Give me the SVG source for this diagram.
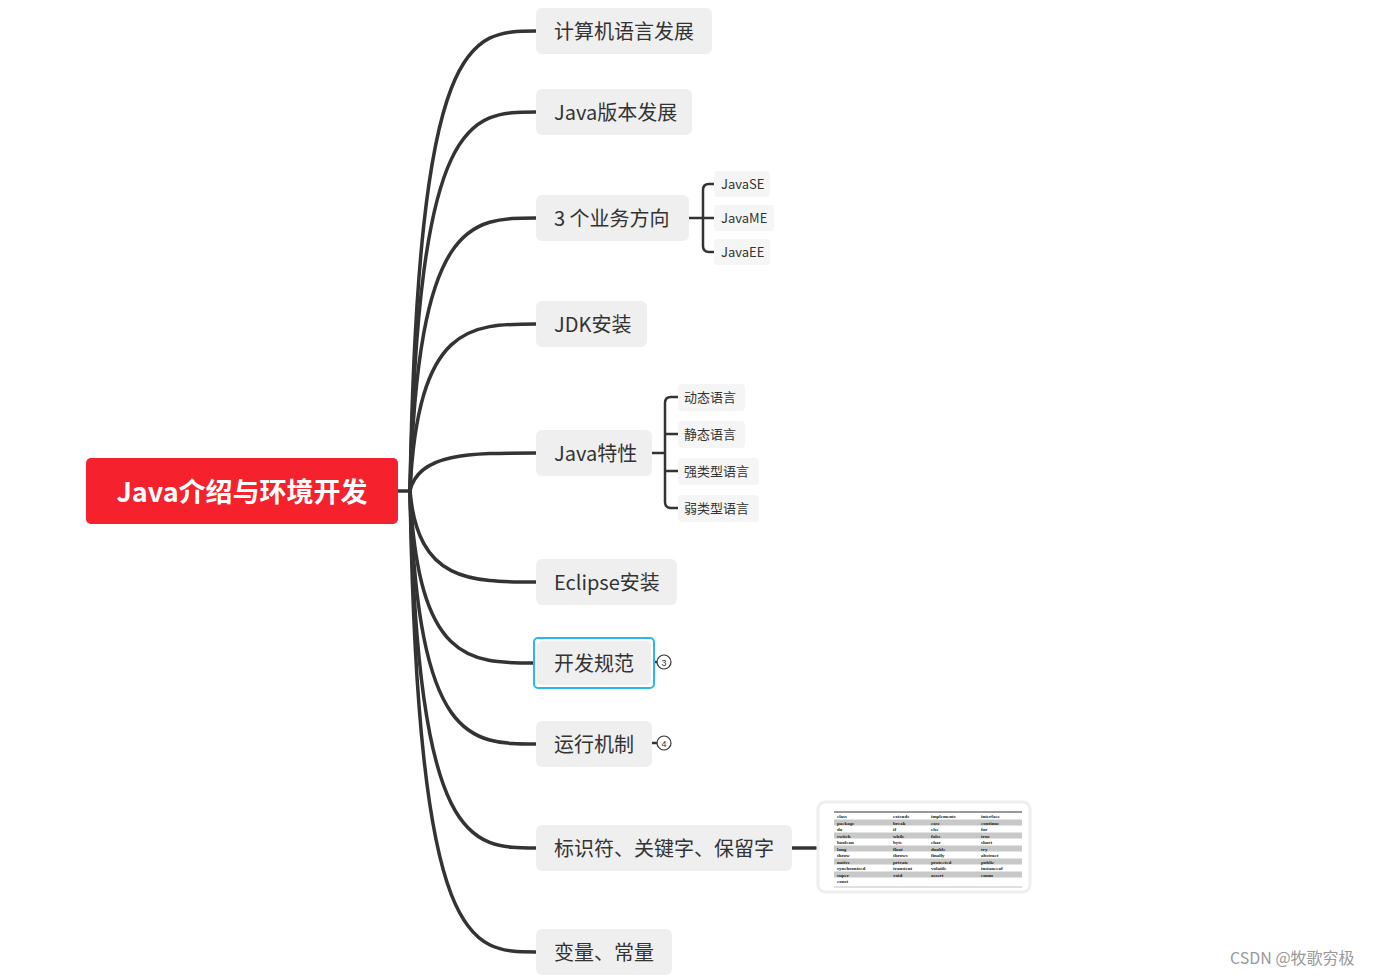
<svg xmlns="http://www.w3.org/2000/svg" width="1382" height="976" viewBox="0 0 1382 976">
<style>
.n{fill:#efefef}
.t{font-family:"Noto Sans CJK SC","Noto Sans",sans-serif;font-size:20px;fill:#333}
.s{fill:#f5f5f5}
.st{font-family:"Noto Sans CJK SC","Noto Sans",sans-serif;font-size:13px;fill:#333}
.c path,.c line{fill:none;stroke:#333;stroke-width:3.5;stroke-linecap:round}
.c .thin{stroke-width:2.5}
.tb{font-family:"Liberation Serif",serif;font-size:5px;fill:#222;font-weight:bold}
</style>
<rect width="1382" height="976" fill="#fff"/>
<g class="c" id="connectors">
<line x1="398" y1="491" x2="410" y2="491"/>
<path d="M410,491 C418,31 470,31 536,31"/>
<path d="M410,491 C418,112 470,112 536,112"/>
<path d="M410,491 C418,218 470,218 536,218"/>
<path d="M410,491 C418,324 470,324 536,324"/>
<path d="M410,491 C418,453 470,453 536,453"/>
<path d="M410,491 C418,582 470,582 536,582"/>
<path d="M410,491 C418,663 470,663 534,663"/>
<path d="M410,491 C418,744 470,744 536,744"/>
<path d="M410,491 C418,848 470,848 536,848"/>
<path d="M410,491 C418,952 470,952 536,952"/>
<path class="thin" d="M689,218 H703 M714,184 H709 Q703,184 703,190 V246 Q703,252 709,252 H714 M703,218 H714"/>
<path class="thin" d="M652,453 H665 M678,397 H671 Q665,397 665,403 V502 Q665,508 671,508 H678 M665,434 H678 M665,471 H678"/>
<line class="thin" x1="654" y1="662" x2="657" y2="662"/>
<line class="thin" x1="652" y1="743" x2="657" y2="743"/>
<line x1="792" y1="848" x2="816" y2="848"/>
</g>
<g id="root"><rect x="86" y="458" width="312" height="66" rx="5" fill="#f5222d"/><text x="242" y="502" text-anchor="middle" font-family="Noto Sans CJK SC,sans-serif" font-size="27" font-weight="bold" fill="#fff">Java介绍与环境开发</text></g>
<g id="n1"><rect class="n" x="536" y="8" width="176" height="46" rx="6"/><text class="t" x="554" y="39">计算机语言发展</text></g>
<g id="n2"><rect class="n" x="536" y="89" width="156" height="46" rx="6"/><text class="t" x="554" y="120">Java版本发展</text></g>
<g id="n3"><rect class="n" x="536" y="195" width="153" height="46" rx="6"/><text class="t" x="554" y="226">3 个业务方向</text></g>
<g id="n3a"><rect class="s" x="714" y="171" width="56" height="26" rx="4"/><text class="st" x="721" y="189">JavaSE</text></g>
<g id="n3b"><rect class="s" x="714" y="205" width="60" height="26" rx="4"/><text class="st" x="721" y="223">JavaME</text></g>
<g id="n3c"><rect class="s" x="714" y="239" width="56" height="26" rx="4"/><text class="st" x="721" y="257">JavaEE</text></g>
<g id="n4"><rect class="n" x="536" y="301" width="111" height="46" rx="6"/><text class="t" x="554" y="332">JDK安装</text></g>
<g id="n5"><rect class="n" x="536" y="430" width="116" height="46" rx="6"/><text class="t" x="554" y="461">Java特性</text></g>
<g id="n5a"><rect class="s" x="678" y="384" width="67" height="27" rx="4"/><text class="st" x="684" y="402">动态语言</text></g>
<g id="n5b"><rect class="s" x="678" y="421" width="67" height="27" rx="4"/><text class="st" x="684" y="439">静态语言</text></g>
<g id="n5c"><rect class="s" x="678" y="458" width="81" height="27" rx="4"/><text class="st" x="684" y="476">强类型语言</text></g>
<g id="n5d"><rect class="s" x="678" y="495" width="81" height="27" rx="4"/><text class="st" x="684" y="513">弱类型语言</text></g>
<g id="n6"><rect class="n" x="536" y="559" width="141" height="46" rx="6"/><text class="t" x="554" y="590">Eclipse安装</text></g>
<g id="n7"><rect x="534" y="638" width="120" height="50" rx="4" fill="#fff" stroke="#2ab7f0" stroke-width="2"/><rect class="n" x="537" y="641" width="114" height="44" rx="5"/><text class="t" x="554" y="671">开发规范</text>
<circle cx="664" cy="662" r="7" fill="#fff" stroke="#333" stroke-width="1.2"/><text x="664" y="665.5" text-anchor="middle" font-family="Liberation Sans,sans-serif" font-size="9" fill="#333">3</text></g>
<g id="n8"><rect class="n" x="536" y="721" width="116" height="46" rx="6"/><text class="t" x="554" y="752">运行机制</text>
<circle cx="664" cy="743" r="7" fill="#fff" stroke="#333" stroke-width="1.2"/><text x="664" y="746.5" text-anchor="middle" font-family="Liberation Sans,sans-serif" font-size="9" fill="#333">4</text></g>
<g id="n9"><rect class="n" x="536" y="825" width="256" height="46" rx="6"/><text class="t" x="554" y="856">标识符、关键字、保留字</text></g>
<g id="n9img">
<rect x="818" y="802" width="212" height="90" rx="7" fill="#fff" stroke="#eee" stroke-width="3"/>
<line x1="834" y1="812" x2="1022" y2="812" stroke="#333" stroke-width="1"/>
<g fill="#c8c8c8">
<rect x="834" y="819.5" width="188" height="6"/><rect x="834" y="832.5" width="188" height="6"/><rect x="834" y="845.5" width="188" height="6"/><rect x="834" y="858.5" width="188" height="6"/><rect x="834" y="871.5" width="188" height="6"/>
</g>
<line x1="834" y1="887" x2="1022" y2="887" stroke="#999" stroke-width="0.6"/>
<g class="tb">
<text x="837" y="818">class</text><text x="893" y="818">extends</text><text x="931" y="818">implements</text><text x="981" y="818">interface</text>
<text x="837" y="824.5">package</text><text x="893" y="824.5">break</text><text x="931" y="824.5">case</text><text x="981" y="824.5">continue</text>
<text x="837" y="831">do</text><text x="893" y="831">if</text><text x="931" y="831">else</text><text x="981" y="831">for</text>
<text x="837" y="837.5">switch</text><text x="893" y="837.5">while</text><text x="931" y="837.5">false</text><text x="981" y="837.5">true</text>
<text x="837" y="844">boolean</text><text x="893" y="844">byte</text><text x="931" y="844">char</text><text x="981" y="844">short</text>
<text x="837" y="850.5">long</text><text x="893" y="850.5">float</text><text x="931" y="850.5">double</text><text x="981" y="850.5">try</text>
<text x="837" y="857">throw</text><text x="893" y="857">throws</text><text x="931" y="857">finally</text><text x="981" y="857">abstract</text>
<text x="837" y="863.5">native</text><text x="893" y="863.5">private</text><text x="931" y="863.5">protected</text><text x="981" y="863.5">public</text>
<text x="837" y="870">synchronized</text><text x="893" y="870">transient</text><text x="931" y="870">volatile</text><text x="981" y="870">instanceof</text>
<text x="837" y="876.5">super</text><text x="893" y="876.5">void</text><text x="931" y="876.5">assert</text><text x="981" y="876.5">enum</text>
<text x="837" y="883">const</text>
</g>
</g>
<g id="n10"><rect class="n" x="536" y="929" width="136" height="46" rx="6"/><text class="t" x="554" y="960">变量、常量</text></g>
<text x="1230" y="964" font-family="Noto Sans CJK SC,sans-serif" font-size="16" fill="#999">CSDN @牧歌穷极</text>
</svg>
